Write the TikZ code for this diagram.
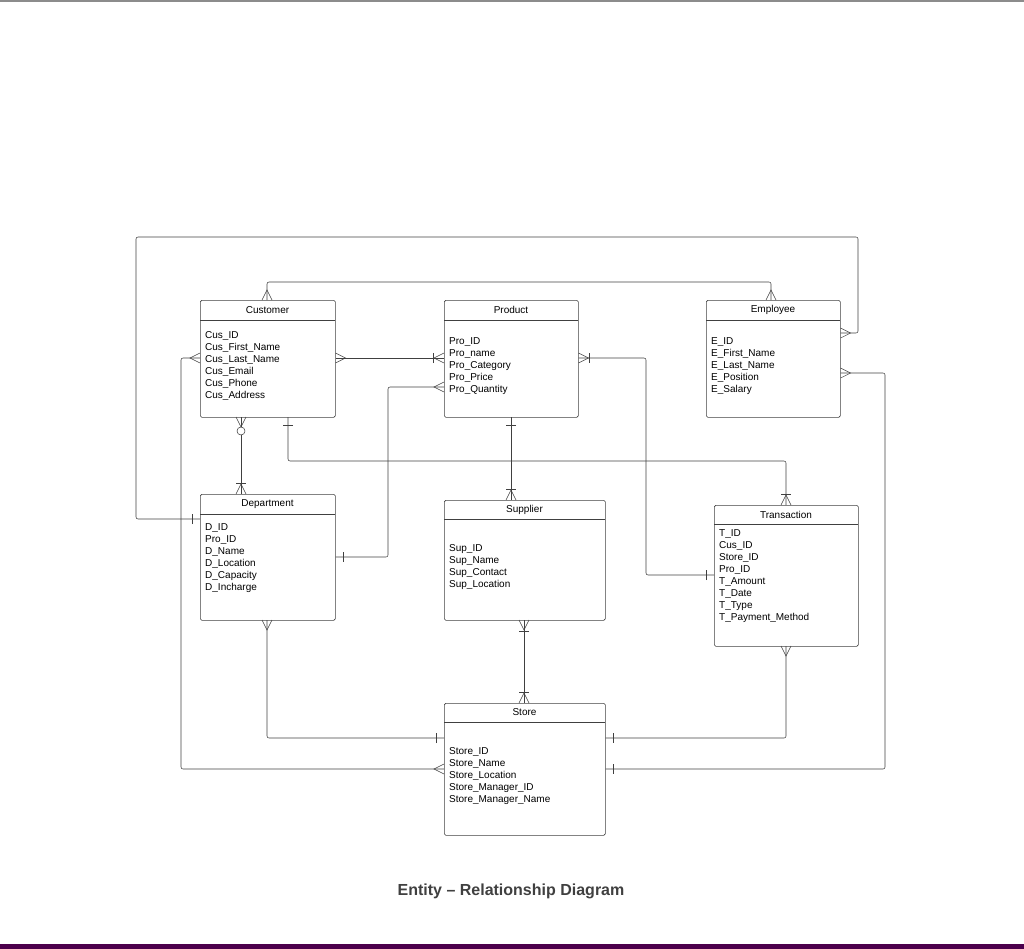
\documentclass[tikz,border=0pt]{standalone}
\usepackage{fontspec}
\setmainfont{Liberation Sans}
\usetikzlibrary{calc}
\begin{document}
\begin{tikzpicture}[x=1pt,y=-1pt,
  ent/.style={draw=black!75,line width=0.6pt,rounded corners=1.5pt,anchor=north west,inner sep=0},
  ttl/.style={font=\fontsize{10}{12}\selectfont,anchor=center},
  att/.style={font=\fontsize{10}{12}\selectfont,align=left,anchor=north west,inner sep=0},
  con/.style={draw=black!75,line width=0.55pt,rounded corners=2pt},
  mk/.style={draw=black!75,line width=0.55pt},
  many/.pic={\draw[mk] (0,-5)--(10,0)--(0,5);},
  one/.pic={\draw[mk] (8,-5)--(8,5);},
  onemany/.pic={\draw[mk] (0,-5)--(10,0)--(0,5); \draw[mk] (11,-5)--(11,5);},
  zeromany/.pic={\draw[mk] (0,-5)--(10,0)--(0,5); \draw[mk,fill=white] (14,0) circle (4);}
]
\useasboundingbox (0,0) rectangle (1024,949);
\fill[black!45] (0,0) rectangle (1024,2);
\fill[violet!60!black] (0,944) rectangle (1024,949);

\newcommand\ent[7]{%
  \node[ent,minimum width={#4-#2},minimum height={#5-#3}] (#1) at (#2,#3) {};
  \draw[black!75,line width=0.6pt] (#2,#7)--(#4,#7);
  \node[ttl] (#1t) at ({(#2+#4)/2},{(#3+#7)/2}) {#6};
}
\ent{cust}{200}{300}{335}{417}{Customer}{320}
\ent{prod}{444}{300}{578}{417}{Product}{320}
\ent{emp}{706}{300}{840}{417}{Employee}{320}
\ent{dept}{200}{494}{335}{620}{Department}{514}
\ent{sup}{444}{500}{605}{620}{Supplier}{519}
\ent{tra}{714}{505}{858}{646}{Transaction}{524}
\ent{sto}{444}{703}{605}{835}{Store}{722}

\node[att] (custa) at (205,331) {Cus\_ID\\Cus\_First\_Name\\Cus\_Last\_Name\\Cus\_Email\\Cus\_Phone\\Cus\_Address};
\node[att] (proda) at (449,337) {Pro\_ID\\Pro\_name\\Pro\_Category\\Pro\_Price\\Pro\_Quantity};
\node[att] (empa) at (711,337) {E\_ID\\E\_First\_Name\\E\_Last\_Name\\E\_Position\\E\_Salary};
\node[att] (depta) at (205,523) {D\_ID\\Pro\_ID\\D\_Name\\D\_Location\\D\_Capacity\\D\_Incharge};
\node[att] (supa) at (449,544) {Sup\_ID\\Sup\_Name\\Sup\_Contact\\Sup\_Location};
\node[att] (traa) at (719,529) {T\_ID\\Cus\_ID\\Store\_ID\\Pro\_ID\\T\_Amount\\T\_Date\\T\_Type\\T\_Payment\_Method};
\node[att] (stoa) at (449,747) {Store\_ID\\Store\_Name\\Store\_Location\\Store\_Manager\_ID\\Store\_Manager\_Name};

\draw[con] (dept.west |- 0,519) -- (136,519) -- (136,237) -- (858,237) -- (858,333) -- (emp.east |- 0,333);
\pic[rotate=180] at (dept.west |- 0,519) {one};
\pic at (emp.east |- 0,333) {many};

\draw[con] (267,300) -- (267,282) -- (771,282) -- (771,300);
\pic[rotate=90] at (267,300) {many};
\pic[rotate=90] at (771,300) {many};

\draw[con] (cust.east |- 0,358) -- (prod.west |- 0,358);
\pic at (cust.east |- 0,358) {many};
\pic[rotate=180] at (prod.west |- 0,358) {onemany};

\draw[con] (dept.east |- 0,557) -- (388,557) -- (388,387) -- (prod.west |- 0,387);
\pic at (dept.east |- 0,557) {one};
\pic[rotate=180] at (prod.west |- 0,387) {many};

\draw[con] (prod.east |- 0,358) -- (646,358) -- (646,575) -- (tra.west |- 0,575);
\pic at (prod.east |- 0,358) {onemany};
\pic[rotate=180] at (tra.west |- 0,575) {one};

\draw[con] (241,417) -- (241,494);
\pic[rotate=270] at (241,417) {zeromany};
\pic[rotate=90] at (241,494) {onemany};

\draw[con] (288,417) -- (288,461) -- (786,461) -- (786,505);
\pic[rotate=270] at (288,417) {one};
\pic[rotate=90] at (786,505) {onemany};

\draw[con] (511,417) -- (511,500);
\pic[rotate=270] at (511,417) {one};
\pic[rotate=90] at (511,500) {onemany};

\draw[con] (524,620) -- (524,703);
\pic[rotate=270] at (524,620) {onemany};
\pic[rotate=90] at (524,703) {onemany};

\draw[con] (267,620) -- (267,738) -- (sto.west |- 0,738);
\pic[rotate=270] at (267,620) {many};
\pic[rotate=180] at (sto.west |- 0,738) {one};

\draw[con] (786,646) -- (786,738) -- (sto.east |- 0,738);
\pic[rotate=270] at (786,646) {many};
\pic at (sto.east |- 0,738) {one};

\draw[con] (cust.west |- 0,358) -- (181,358) -- (181,769) -- (sto.west |- 0,769);
\pic[rotate=180] at (cust.west |- 0,358) {many};
\pic[rotate=180] at (sto.west |- 0,769) {many};

\draw[con] (emp.east |- 0,373) -- (885,373) -- (885,769) -- (sto.east |- 0,769);
\pic at (emp.east |- 0,373) {many};
\pic at (sto.east |- 0,769) {one};

\node[font=\bfseries\fontsize{16}{18}\selectfont,text=black!75] (title) at (511,891) {Entity – Relationship Diagram};
\end{tikzpicture}
\end{document}
